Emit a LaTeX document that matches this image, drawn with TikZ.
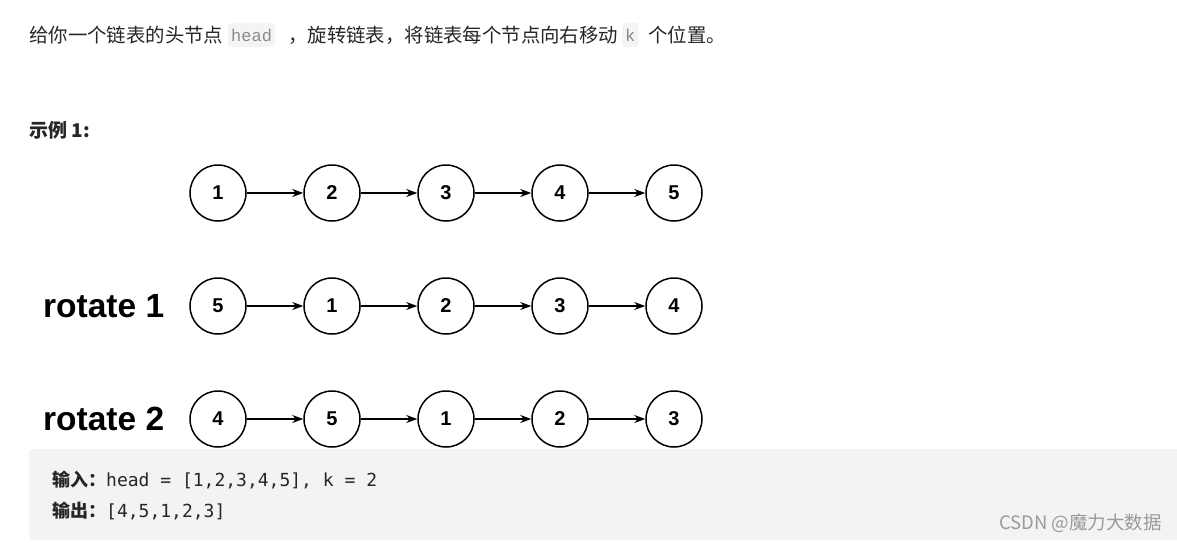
\documentclass[tikz,border=0pt]{standalone}
\usepackage{fontspec}
\setmainfont{Liberation Sans}
\setmonofont{DejaVu Sans Mono}
\newfontfamily\cjk{Noto Sans CJK SC}
\newfontfamily\codefont{Liberation Mono}
\usetikzlibrary{arrows.meta}
\definecolor{txt}{HTML}{262626}
\definecolor{codebg}{HTML}{F2F3F5}
\definecolor{inlinebg}{HTML}{F3F4F5}
\definecolor{inlinetxt}{HTML}{8A8A8A}
\definecolor{wm}{HTML}{9A9A9A}
\tikzset{
  lnode/.style={circle,draw=black,line width=1.5pt,minimum size=56pt,inner sep=0pt,font=\fontsize{20}{20}\selectfont\bfseries},
  link/.style={line width=1.3pt,-{Stealth[length=11pt,width=8pt]}},
  rowlabel/.style={anchor=west,inner sep=0pt,font=\fontsize{33.5}{33.5}\selectfont\bfseries},
  para/.style={anchor=west,inner sep=0pt,text=txt,font=\cjk\fontsize{19.4}{19.4}\selectfont},
  inl/.style={anchor=west,fill=inlinebg,rounded corners=3pt,inner xsep=3pt,text=inlinetxt,font=\codefont\fontsize{17}{17}\selectfont,minimum height=24pt},
  codeline/.style={anchor=west,inner sep=0pt,text=txt,font=\fontsize{18}{18}\selectfont}
}
\begin{document}
\begin{tikzpicture}[x=1pt,y=-1pt]
\useasboundingbox[fill=white] (0,0) rectangle (1177,543);
% paragraph
\node[para] (p1) at (29,35) {给你一个链表的头节点};
\node[inl] (c1) at (228,35) {head};
\node[para] (p2) at (288,35) {，旋转链表，将链表每个节点向右移动};
\node[inl] (c2) at (622,35) {k};
\node[para] (p3) at (648,35) {个位置。};
\node[anchor=west,inner sep=0pt,text=txt,font=\cjk\fontsize{19}{19}\selectfont\bfseries] (ex) at (29,130) {示例 1:};
% rows
\foreach \r/\y/\lst in {1/193/{1,2,3,4,5},2/306/{5,1,2,3,4},3/419/{4,5,1,2,3}}{
  \foreach \v [count=\i] in \lst {
    \node[lnode] (n\r\i) at ({218+114*(\i-1)},\y) {\v};
  }
  \foreach \i [evaluate=\i as \j using int(\i+1)] in {1,2,3,4}{
    \draw[link] (n\r\i) -- (n\r\j);
  }
}
\node[rowlabel] (r1) at (43,306) {rotate 1};
\node[rowlabel] (r2) at (43,419) {rotate 2};
% code box
\fill[codebg,rounded corners=4pt] (29,449) rectangle (1190,540);
\node[codeline] (o1) at (52,480) {{\cjk\bfseries 输入：}{\ttfamily head = [1,2,3,4,5], k = 2}};
\node[codeline] (o2) at (52,511) {{\cjk\bfseries 输出：}{\ttfamily [4,5,1,2,3]}};
\node[anchor=east,inner sep=0pt,text=wm,font=\cjk\fontsize{18.5}{18.5}\selectfont] (w) at (1162,523) {CSDN @魔力大数据};
\end{tikzpicture}
\end{document}
